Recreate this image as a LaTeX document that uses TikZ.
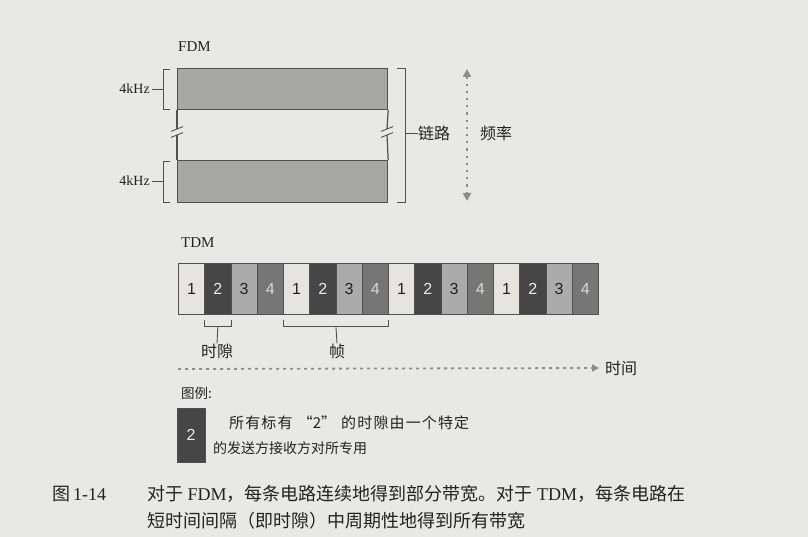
\documentclass[tikz,border=0pt]{standalone}
\usepackage{fontspec}
\setmainfont{Liberation Serif}
\newfontfamily\cjk{Noto Sans CJK SC}
\newfontfamily\arialf{Liberation Sans}
\usetikzlibrary{arrows.meta,calc}
\definecolor{bg}{HTML}{E8E8E6}
\definecolor{cA}{HTML}{E6E4DE}
\definecolor{cB}{HTML}{464646}
\definecolor{cC}{HTML}{ABABAB}
\definecolor{cD}{HTML}{767676}
\definecolor{band}{HTML}{A7A7A5}
\definecolor{edge}{HTML}{505050}
\definecolor{ink}{HTML}{222222}
\definecolor{dotc}{HTML}{8C8C8C}
\tikzset{
  txt/.style={inner sep=0pt, text=ink},
  cn/.style={txt, font=\cjk\fontsize{16}{18}\selectfont},
  lat/.style={txt, font=\fontsize{15}{17}\selectfont},
  bandbox/.style={draw=edge, line width=1.2pt, fill=band, inner sep=0pt, anchor=north west},
  slot/.style={draw=edge, line width=0.9pt, inner sep=0pt, minimum width=26.25pt, minimum height=51pt, anchor=north west, font=\arialf\fontsize{16}{18}\selectfont},
  brk/.style={draw=edge, line width=0.9pt},
  dotarrow/.style={dotc, line width=2.2pt, dash pattern=on 2.2pt off 5pt},
}
\begin{document}
\begin{tikzpicture}[x=1pt,y=-1pt]
\fill[bg] (0,0) rectangle (808,537);
\useasboundingbox (0,0) rectangle (808,537);
% ---------- FDM ----------
\node[lat, anchor=west] (fdm) at (178,47) {FDM};
\node[bandbox, minimum width=210pt, minimum height=41pt] (fa) at (177,68) {};
\node[bandbox, minimum width=210pt, minimum height=42pt] (fb) at (177,160) {};
% sides with break marks
\coordinate (l1) at (177,129); \coordinate (l2) at (177,135);
\coordinate (r1) at (387,129); \coordinate (r2) at (387,135);
\draw[edge, line width=1.2pt] (fa.south west) -- (l1) (l2) -- (fb.north west);
\draw[edge, line width=1.2pt] (fa.south east) -- (r1) (r2) -- (fb.north east);
\foreach \c in {l1,l2,r1,r2}{
  \draw[edge, line width=0.9pt] ($(\c)+(-6,2.4)$) -- ($(\c)+(6,-2.4)$);
}
% left brackets
\draw[brk] (170,69) -- (163,69) -- (163,109) -- (170,109);
\draw[brk] (170,161) -- (163,161) -- (163,202) -- (170,202);
\node[lat, anchor=east, font=\fontsize{14}{16}\selectfont] (k1) at (150,89) {4kHz};
\node[lat, anchor=east, font=\fontsize{14}{16}\selectfont] (k2) at (150,181) {4kHz};
\draw[brk] (k1.east) ++(2,0) -- (163,89);
\draw[brk] (k2.east) ++(2,0) -- (163,181);
% right bracket
\draw[brk] (397,68) -- (405,68) -- (405,202) -- (397,202);
\node[cn, anchor=west] (link) at (418,133) {链路};
\draw[brk] (405,133) -- (link.west);
% frequency arrow
\coordinate (ft) at (467,69); \coordinate (fbm) at (467,201);
\draw[dotarrow, {Triangle[width=8pt,length=8pt]}-{Triangle[width=8pt,length=8pt]}] (ft) -- (fbm);
\node[cn, anchor=west] (freq) at (480,133) {频率};
% ---------- TDM ----------
\node[lat, anchor=west] (tdm) at (181,243) {TDM};
\foreach \g in {0,...,3}{
  \foreach \n/\f/\t in {1/cA/ink,2/cB/white!92!black,3/cC/ink,4/cD/white!85!black}{
    \node[slot, fill=\f, text=\t] (s\g\n) at ({178+(\g*4+\n-1)*26.25},263) {\n};
  }
}
% slot bracket
\draw[brk] ([yshift=-5pt]s02.south west) -- ([yshift=-12pt]s02.south west)
   -- ([yshift=-12pt]s02.south east) -- ([yshift=-5pt]s02.south east);
\node[cn] (slotlbl) at (217,351) {时隙};
\draw[brk] ([yshift=-12pt]s02.south) -- (slotlbl.north);
% frame bracket
\draw[brk] ([yshift=-5pt]s11.south west) -- ([yshift=-12pt]s11.south west)
   -- ([yshift=-12pt]s14.south east) -- ([yshift=-5pt]s14.south east);
\coordinate (fm) at ($([yshift=-12pt]s11.south west)!0.5!([yshift=-12pt]s14.south east)$);
\node[cn] (framelbl) at (337,351) {帧};
\draw[brk] (fm) -- (framelbl.north);
% time axis
\coordinate (t0) at (178,369);
\node[cn, anchor=west] (time) at (605,368) {时间};
\draw[dotc, line width=1.8pt, dash pattern=on 3pt off 4pt, -{Triangle[width=7pt,length=7pt]}] (t0) -- ([xshift=-6pt]time.west);
% ---------- legend ----------
\node[cn, anchor=west, font=\cjk\fontsize{13.5}{15}\selectfont] (leg) at (181,393) {图例:};
\node[slot, fill=cB, text=white!92!black, minimum width=28pt, minimum height=54pt, anchor=center] (legbox) at (191,435) {2};
\node[cn, anchor=west, font=\cjk\fontsize{15}{17}\selectfont] (lt1) at (229,423)
  {\hbox to 240pt{所\hfil 有\hfil 标\hfil 有\hspace{4pt}\hfil“2”\hfil\hspace{4pt}的\hfil 时\hfil 隙\hfil 由\hfil 一\hfil 个\hfil 特\hfil 定}};
\node[cn, anchor=west, font=\cjk\fontsize{14}{16}\selectfont] (lt2) at (213,448) {的发送方接收方对所专用};
% ---------- caption ----------
\node[cn, anchor=west, font=\cjk\fontsize{18}{20}\selectfont] (cap0) at (52,494) {图\,{\rmfamily 1-14}};
\node[cn, anchor=west, font=\cjk\fontsize{18}{20}\selectfont] (cap1) at (147,494) {对于{\rmfamily\ FDM}，每条电路连续地得到部分带宽。对于{\rmfamily\ TDM}，每条电路在};
\node[cn, anchor=west, font=\cjk\fontsize{18}{20}\selectfont] (cap2) at (147,521) {短时间间隔（即时隙）中周期性地得到所有带宽};
\end{tikzpicture}
\end{document}
